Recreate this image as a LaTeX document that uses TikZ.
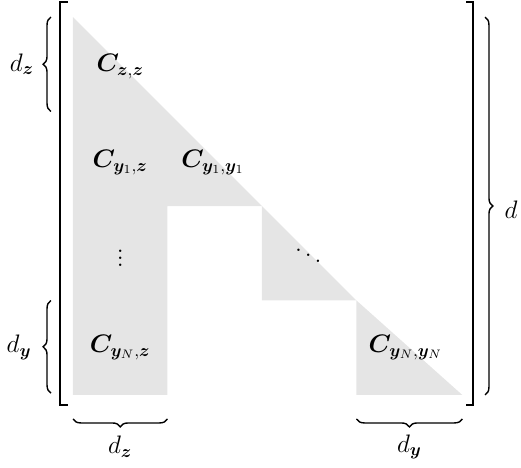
\documentclass[tikz,border=0pt]{standalone}
\usepackage{amsmath}
\usepackage{bm}
\usetikzlibrary{decorations.pathreplacing}

\begin{document}
\begin{tikzpicture}[x=1.89cm,y=-1.89cm,
    every node/.style={font=\Large},
    brace/.style={decorate,decoration={brace,amplitude=4.5pt},thick},
    bracket/.style={line width=1.3pt}]

      \useasboundingbox (-0.7725,-0.18) rectangle (4.741,4.772);

      % covariance blocks
      \fill[gray!20] (0,0) -- (2,2) -- (3,3) -- (4.12,4) -- (3,4) -- (3,3)
        -- (2,3) -- (2,2) -- (1,2) -- (1,4) -- (0,4) -- cycle;

      \begin{scope}[every node/.style={font=\Large,anchor=base}]
        \node (czz)   at (0.5,0.58)  {$\bm{C}_{\bm{z},\bm{z}}$};
        \node (cy1z)  at (0.5,1.59)  {$\bm{C}_{\bm{y}_1,\bm{z}}$};
        \node (cy1y1) at (1.48,1.59) {$\bm{C}_{\bm{y}_1,\bm{y}_1}$};
        \node (cyNz)  at (0.5,3.55)  {$\bm{C}_{\bm{y}_N,\bm{z}}$};
        \node (cyNyN) at (3.52,3.55) {$\bm{C}_{\bm{y}_N,\bm{y}_N}$};
      \end{scope}
      \node (vd) at (0.5,2.5)   {$\vdots$};
      \node (dd) at (2.49,2.47) {$\ddots$};

      % brackets
      \draw[bracket] (-0.053,-0.159) -- (-0.138,-0.159) -- (-0.138,4.106) -- (-0.053,4.106);
      \draw[bracket] (4.16,-0.159) -- (4.233,-0.159) -- (4.233,4.106) -- (4.16,4.106);

      % braces
      \coordinate (lz1) at (-0.233,1);    \coordinate (lz0) at (-0.233,0);
      \coordinate (ly1) at (-0.233,3.98); \coordinate (ly0) at (-0.233,3);
      \coordinate (r0)  at (4.36,0);      \coordinate (r1)  at (4.36,4);
      \coordinate (bz1) at (1,4.254);     \coordinate (bz0) at (0,4.254);
      \coordinate (by1) at (4.12,4.254);  \coordinate (by0) at (3,4.254);

      \draw[brace] (lz1) -- (lz0);
      \draw[brace] (ly1) -- (ly0);
      \draw[brace] (r0) -- (r1);
      \draw[brace] (bz1) -- (bz0);
      \draw[brace] (by1) -- (by0);

      \node (dzl) at (-0.54,0.5)  {$d_{\bm{z}}$};
      \node (dyl) at (-0.57,3.5)  {$d_{\bm{y}}$};
      \node (dr)  at (4.635,2.04) {$d$};
      \node (dzb) at (0.5,4.55)   {$d_{\bm{z}}$};
      \node (dyb) at (3.56,4.55)  {$d_{\bm{y}}$};

    \end{tikzpicture}
\end{document}
